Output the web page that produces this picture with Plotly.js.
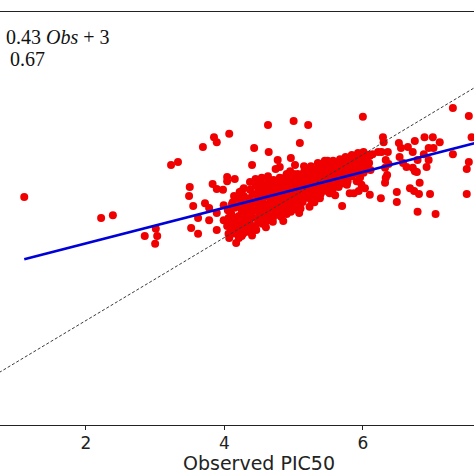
<!DOCTYPE html>
<html>
<head>
<meta charset="utf-8">
<script src="https://cdn.plot.ly/plotly-3.0.1.min.js"></script>
<style>
  html, body { margin: 0; padding: 0; width: 474px; height: 474px; overflow: hidden; background: #fff; }
  #plot { position: absolute; left: -78.1px; top: 0; width: 634.3px; height: 474px; }
</style>
</head>
<body>
<div id="plot"></div>
<script>
// Observed vs predicted PIC50 values
const observed = [
  // scattered compounds
  1.11, 2.22, 2.39, 2.85, 3.01, 3.03, 3.00, 3.23, 3.33, 3.69, 3.85, 3.89, 4.07, 4.63, 5.00, 5.21, 6.00, 7.30, 7.53,
  4.43, 4.64, 5.09, 4.40, 4.77, 4.96, 4.80, 4.74, 5.02, 5.15, 5.25, 5.35, 5.49, 5.58, 4.90, 5.00, 4.15, 3.50, 3.83,
  4.04, 4.04, 3.49, 3.55, 3.72, 3.78, 3.89, 3.98, 3.62, 3.78, 3.52, 3.62, 3.89, 3.99, 3.99, 3.89, 4.17, 4.46, 4.70,
  4.82, 5.08, 5.23, 5.38, 5.52, 5.70,
  6.29, 6.30, 6.27, 6.36, 6.52, 6.55, 6.65, 6.75, 6.89, 7.01, 7.11, 6.72, 6.88, 6.95, 7.02, 6.79, 6.95, 7.30, 7.53,
  7.50, 6.33, 6.37, 6.53, 6.58, 6.63, 6.72, 6.92, 6.75, 5.57, 5.74, 5.81, 5.91, 6.00, 6.06, 6.35, 6.32, 5.98, 5.94,
  5.81, 5.87, 6.03, 6.10, 6.26, 6.49, 6.49, 6.68, 6.74, 6.81, 6.82, 6.97, 7.50, 6.79, 7.05, 6.78, 7.57,
  5.57, 5.64, 5.71, 5.78, 5.84, 5.90, 5.96, 6.03, 6.10, 6.14, 6.22, 6.32, 6.33,
  // dense core
  4.05, 4.06, 4.04, 4.06, 4.07,
  4.11, 4.10, 4.12, 4.11,
  4.20, 4.19, 4.21, 4.20, 4.18, 4.21,
  4.28, 4.29, 4.27, 4.28, 4.30, 4.27,
  4.37, 4.36, 4.38, 4.37, 4.36, 4.38,
  4.45, 4.46, 4.44, 4.45, 4.47, 4.45,
  4.54, 4.53, 4.55, 4.54, 4.52, 4.55,
  4.63, 4.62, 4.64, 4.63, 4.61, 4.64,
  4.71, 4.72, 4.70, 4.71, 4.73, 4.70,
  4.80, 4.79, 4.81, 4.80, 4.82,
  4.89, 4.88, 4.90, 4.89, 4.87, 4.90,
  4.97, 4.98, 4.96, 4.97, 4.99, 4.96,
  5.06, 5.05, 5.07, 5.06, 5.04,
  5.15, 5.14, 5.16, 5.15, 5.13,
  5.23, 5.24, 5.22, 5.23, 5.25,
  5.32, 5.31, 5.33, 5.32, 5.30,
  5.41, 5.40, 5.42, 5.41, 5.39,
  5.49, 5.50, 5.48, 5.49, 5.51,
  5.58, 5.57, 5.59, 5.58, 5.56,
  5.67, 5.66, 5.68, 5.67, 5.65,
  5.75, 5.76, 5.74, 5.75, 5.77,
  5.84, 5.83, 5.85, 5.84,
  5.93, 5.92, 5.94, 5.93, 5.91,
  6.01, 6.02, 6.00, 6.01,
  6.10, 6.09, 6.11,
  // dense core, in-between rows
  4.09, 4.08, 4.10,
  4.15, 4.16, 4.15, 4.14,
  4.24, 4.25, 4.24, 4.23, 4.25,
  4.32, 4.33, 4.32, 4.31, 4.33,
  4.41, 4.40, 4.42, 4.41, 4.40,
  4.50, 4.49, 4.50, 4.51, 4.49,
  4.58, 4.59, 4.58, 4.57, 4.59,
  4.67, 4.68, 4.67, 4.66, 4.68,
  4.75, 4.76, 4.75, 4.74, 4.76,
  4.84, 4.85, 4.84, 4.83,
  4.93, 4.94, 4.93, 4.92, 4.94,
  5.01, 5.02, 5.01, 5.00, 5.02,
  5.10, 5.11, 5.10, 5.09,
  5.19, 5.20, 5.19, 5.18,
  5.27, 5.28, 5.27, 5.26,
  5.36, 5.37, 5.36, 5.35,
  5.45, 5.46, 5.45, 5.44,
  5.53, 5.54, 5.53, 5.52,
  5.62, 5.63, 5.62, 5.61,
  5.71, 5.72, 5.71, 5.70,
  5.79, 5.80, 5.79, 5.78,
  5.88, 5.89, 5.88,
  5.97, 5.98, 5.97, 5.96,
  6.05, 6.06, 6.05,
  // core edges
  4.28, 4.37, 4.45, 4.54, 4.63, 4.22, 4.14,
  4.25, 4.50, 4.60, 4.85, 5.10, 5.30, 5.60, 4.12, 4.40, 5.45, 4.95, 5.20
];
const predicted = [
  4.98, 4.47, 4.54, 4.04, 4.21, 4.04, 3.85, 5.75, 5.82, 6.18, 6.42, 6.30, 6.50, 6.71, 6.81, 6.71, 6.91, 7.12, 6.93,
  6.16, 6.06, 6.28, 5.75, 5.87, 5.92, 5.70, 5.65, 5.75, 5.72, 5.72, 5.80, 5.85, 5.82, 5.53, 5.53, 5.41, 5.22, 5.29,
  5.46, 5.36, 5.00, 4.76, 4.83, 4.71, 5.17, 5.15, 4.47, 4.42, 4.23, 4.09, 4.18, 4.42, 4.78, 4.59, 3.87, 4.18, 4.38,
  4.50, 4.59, 4.74, 4.95, 5.07, 4.76,
  6.42, 6.30, 6.06, 6.06, 6.28, 6.16, 6.18, 6.33, 6.42, 6.42, 6.30, 6.06, 6.01, 6.16, 6.16, 5.87, 5.87, 6.01, 5.82,
  5.65, 5.87, 5.77, 5.94, 5.80, 5.70, 5.68, 5.70, 5.60, 5.85, 5.80, 5.87, 5.92, 6.04, 5.99, 5.51, 5.32, 5.27, 5.12,
  5.07, 5.07, 5.19, 5.03, 4.95, 5.10, 4.86, 5.19, 5.12, 5.05, 5.32, 5.05, 5.05, 4.62, 4.57, 5.58, 6.42,
  5.44, 5.51, 5.58, 5.68, 5.75, 5.80, 5.87, 5.92, 5.97, 6.01, 6.06, 5.68, 5.44,
  4.66, 4.47, 4.28, 4.09, 3.99,
  4.81, 4.57, 4.38, 4.18,
  4.95, 4.76, 4.52, 4.33, 4.13, 3.99,
  5.00, 4.81, 4.62, 4.42, 4.23, 4.09,
  5.15, 4.95, 4.76, 4.57, 4.38, 4.18,
  5.24, 5.05, 4.86, 4.66, 4.47, 4.28,
  5.29, 5.10, 4.91, 4.71, 4.52, 4.33,
  5.34, 5.15, 4.98, 4.78, 4.59, 4.42,
  5.39, 5.19, 5.03, 4.83, 4.64, 4.47,
  5.44, 5.24, 5.05, 4.86, 4.66,
  5.48, 5.29, 5.10, 4.91, 4.71, 4.57,
  5.51, 5.32, 5.15, 4.95, 4.76, 4.62,
  5.53, 5.34, 5.17, 5.00, 4.81,
  5.58, 5.39, 5.22, 5.05, 4.86,
  5.60, 5.44, 5.27, 5.10, 4.91,
  5.65, 5.48, 5.32, 5.15, 4.98,
  5.72, 5.56, 5.39, 5.22, 5.05,
  5.77, 5.60, 5.44, 5.24, 5.10,
  5.82, 5.65, 5.48, 5.31, 5.15,
  5.89, 5.72, 5.56, 5.39, 5.22,
  5.94, 5.77, 5.60, 5.44, 5.27,
  5.99, 5.82, 5.65, 5.48,
  6.04, 5.87, 5.70, 5.53, 5.36,
  6.06, 5.89, 5.72, 5.56,
  5.99, 5.80, 5.63,
  4.57, 4.38, 4.19,
  4.72, 4.48, 4.29, 4.10,
  4.86, 4.66, 4.43, 4.24, 4.04,
  4.91, 4.71, 4.52, 4.33, 4.14,
  5.05, 4.86, 4.66, 4.48, 4.28,
  5.14, 4.95, 4.76, 4.57, 4.38,
  5.20, 5.00, 4.81, 4.62, 4.43,
  5.25, 5.06, 4.88, 4.69, 4.50,
  5.29, 5.11, 4.93, 4.74, 4.55,
  5.34, 5.15, 4.96, 4.77,
  5.39, 5.20, 5.01, 4.81, 4.64,
  5.42, 5.23, 5.05, 4.86, 4.68,
  5.44, 5.25, 5.08, 4.90,
  5.49, 5.30, 5.13, 4.96,
  5.52, 5.35, 5.18, 5.01,
  5.56, 5.40, 5.23, 5.06,
  5.64, 5.47, 5.30, 5.13,
  5.68, 5.52, 5.34, 5.17,
  5.73, 5.57, 5.40, 5.23,
  5.80, 5.64, 5.47, 5.30,
  5.85, 5.69, 5.52, 5.35,
  5.90, 5.74, 5.57,
  5.95, 5.79, 5.62, 5.45,
  5.97, 5.81, 5.64,
  5.19, 5.34, 5.41, 5.44, 5.48, 5.10, 5.00,
  5.12, 5.36, 4.25, 4.40, 4.70, 4.85, 5.02, 4.85, 4.05, 5.85, 5.60, 5.65
];

// Linear fit: Pred = 0.43 Obs + 3, R² = 0.67
const fitSlope = 0.43;
const fitIntercept = 3;
const fitR2 = 0.67;
const fitSpan = [1.11, 8.1];
// Identity reference line
const identitySpan = [0.5, 8.5];

const xRange = [0.5, 8.5];
const yRange = [-0.517, 9.436];

const fitY = fitSpan.map(v => fitSlope * v + fitIntercept);

const traces = [
  {
    x: observed, y: predicted, type: 'scatter', mode: 'markers',
    marker: { color: '#f00000', size: 8, line: { width: 0 } },
    hoverinfo: 'x+y', showlegend: false
  },
  {
    x: identitySpan, y: identitySpan, type: 'scatter', mode: 'lines',
    line: { color: '#3a3a3a', width: 1, dash: '3px,2px' },
    showlegend: false
  },
  {
    x: fitSpan, y: fitY, type: 'scatter', mode: 'lines',
    line: { color: '#0000d8', width: 2.6 },
    showlegend: false
  }
];

const tickFont = { family: 'DejaVu Sans, sans-serif', size: 17, color: '#222' };
const titleFont = { family: 'DejaVu Sans, sans-serif', size: 19, color: '#222' };
const eqFont = { family: 'Liberation Serif, DejaVu Serif, serif', size: 20, color: '#111' };

const layout = {
  width: 634.3, height: 474,
  margin: { l: 60, r: 20, t: 12, b: 49, pad: 0 },
  paper_bgcolor: '#fff', plot_bgcolor: '#fff',
  showlegend: false,
  xaxis: {
    range: xRange, tick0: 0, dtick: 2, ticks: 'outside', ticklen: 4, tickwidth: 1, tickcolor: '#222',
    ticklabelstandoff: -1,
    showline: true, mirror: true, linecolor: '#222', linewidth: 1,
    showgrid: false, zeroline: false,
    tickfont: tickFont,
    title: { text: 'Observed PIC50', standoff: 4, font: titleFont },
    automargin: false
  },
  yaxis: {
    range: yRange, tick0: 0, dtick: 2, ticks: 'outside', ticklen: 5, tickwidth: 1, tickcolor: '#222',
    ticklabelstandoff: 30,
    showline: true, mirror: true, linecolor: '#222', linewidth: 1,
    showgrid: false, zeroline: false,
    tickfont: tickFont,
    title: { text: 'Predicted PIC50', font: titleFont },
    automargin: false
  },
  annotations: [
    { xref: 'x', yref: 'y', x: 0.70, y: 8.83, xanchor: 'right', yanchor: 'middle', showarrow: false,
      text: 'Pred =', font: eqFont },
    { xref: 'x', yref: 'y', x: 0.82, y: 8.83, xanchor: 'left', yanchor: 'middle', showarrow: false,
      text: fitSlope.toFixed(2) + ' <i>Obs</i> + ' + fitIntercept, font: eqFont },
    { xref: 'x', yref: 'y', x: 0.73, y: 8.30, xanchor: 'right', yanchor: 'middle', showarrow: false,
      text: 'R<sup>2</sup> =', font: eqFont },
    { xref: 'x', yref: 'y', x: 0.88, y: 8.30, xanchor: 'left', yanchor: 'middle', showarrow: false,
      text: fitR2.toFixed(2), font: eqFont }
  ]
};

Plotly.newPlot('plot', traces, layout, { displayModeBar: false, staticPlot: true });
</script>
</body>
</html>
